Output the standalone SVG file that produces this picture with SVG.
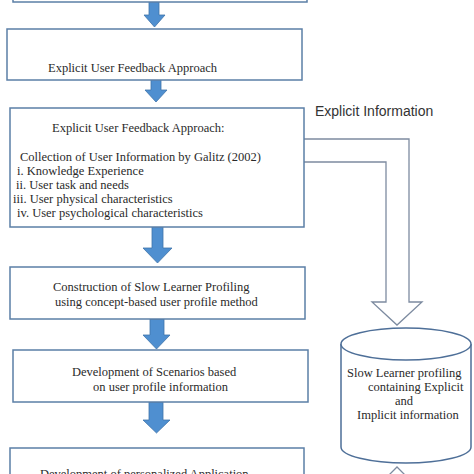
<svg xmlns="http://www.w3.org/2000/svg" width="474" height="474" viewBox="0 0 474 474">
<style>
.box{fill:#fff;stroke:#5b7fa6;stroke-width:1.5}
.t{font-family:"Liberation Serif","Times New Roman",serif;font-size:12.5px;fill:#2a2a2a}
.s{font-family:"Liberation Sans",Arial,sans-serif;font-size:14px;fill:#333}
.ba{fill:#4f8fd0;stroke:#3f74aa;stroke-width:0.8}
.ha{fill:#fff;stroke:#7d8ba0;stroke-width:1.3}
.cyl{fill:#fff;stroke:#4e6f98;stroke-width:1.5}
</style>
<rect width="474" height="474" fill="#fff"/>
<g id="connectors">
<path class="ba" d="M149,-2 H159 V15 H165 L154.5,27 L144,15 H149 Z"/>
<path class="ba" d="M151,76 H161 V90 H167 L156,102 L145,90 H151 Z"/>
<path class="ba" d="M152,223 H163 V248 H172 L157.5,263 L143,248 H152 Z"/>
<path class="ba" d="M150,319 H164 V335 H170 L156.5,349 L143,335 H150 Z"/>
<path class="ba" d="M149,402 H163 V420 H170 L156.5,433 L143,420 H149 Z"/>
<path class="ha" d="M304,139 H409 V302 H422 L397,325 L372,302 H386 V162 H304"/>
<path class="ha" d="M389,475 L397,467 L405,475"/>
</g>
<g id="node-top"><rect class="box" x="13" y="-50" width="294" height="52"/></g>
<g id="node-feedback">
<rect class="box" x="7" y="29" width="295" height="51"/>
<text class="t" x="48" y="72">Explicit User Feedback Approach</text>
</g>
<g id="node-collection">
<rect class="box" x="10" y="108" width="294" height="119"/>
<text class="t" x="52" y="132">Explicit User Feedback Approach:</text>
<text class="t" x="20" y="161">Collection of User Information by Galitz (2002)</text>
<text class="t" x="17" y="175">i. Knowledge Experience</text>
<text class="t" x="16" y="189">ii. User task and needs</text>
<text class="t" x="13" y="203">iii. User physical characteristics</text>
<text class="t" x="17" y="217">iv. User psychological characteristics</text>
</g>
<text class="s" x="315" y="116">Explicit Information</text>
<g id="node-construction">
<rect class="box" x="10" y="267" width="295" height="52"/>
<text class="t" x="53" y="291">Construction of Slow Learner Profiling</text>
<text class="t" x="55" y="306">using concept-based user profile method</text>
</g>
<g id="node-scenarios">
<rect class="box" x="13" y="350" width="295" height="52"/>
<text class="t" x="72" y="376">Development of Scenarios based</text>
<text class="t" x="93" y="391">on user profile information</text>
</g>
<g id="node-application">
<rect class="box" x="10" y="448" width="294" height="60"/>
<text class="t" x="40" y="478">Development of personalized Application</text>
</g>
<g id="node-profile-db">
<path class="cyl" d="M341,344 V447 A65,16 0 0 0 471,447 V344"/>
<ellipse class="cyl" cx="406" cy="344" rx="65" ry="16"/>
<text class="t" x="347" y="377">Slow Learner profiling</text>
<text class="t" x="368" y="391">containing Explicit</text>
<text class="t" x="395" y="405">and</text>
<text class="t" x="357" y="419">Implicit information</text>
</g>
</svg>
